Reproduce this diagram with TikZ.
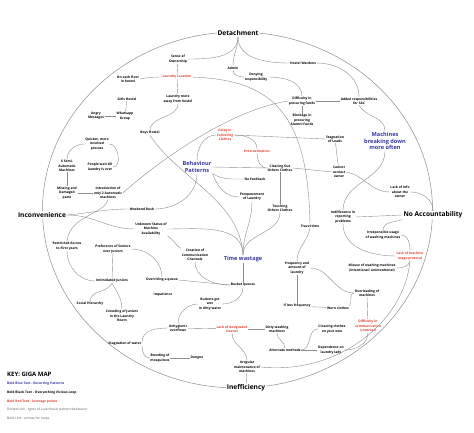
\documentclass[tikz,border=0pt]{standalone}
\usepackage{fontspec}
\setmainfont{Open Sans}
\definecolor{linegray}{RGB}{140,140,140}
\definecolor{patblue}{RGB}{55,55,165}
\definecolor{leverred}{RGB}{225,60,40}
\tikzset{
  lbl/.style={font=\fontsize{3.3}{4.4}\selectfont\bfseries, align=center, inner sep=0.6pt},
  lever/.style={lbl, text=leverred},
  pattern/.style={font=\fontsize{5.6}{6.8}\selectfont\bfseries, text=patblue, align=center, inner sep=1pt},
  loopnode/.style={font=\fontsize{6.6}{8}\selectfont\bfseries, fill=white, inner sep=1pt},
  conn/.style={draw=linegray, line width=0.4pt},
  keyline/.style={font=\fontsize{3.3}{4}\selectfont, anchor=west, inner sep=0pt},
}
\begin{document}
\begin{tikzpicture}[x=1pt, y=-1pt]
    \useasboundingbox (0,0) rectangle (474,433);

    % Big loop
    \draw[conn, line width=0.5pt] (237.5,210) ellipse [x radius=195, y radius=178];

    % Overarching vicious loop
    \node[loopnode] (detach) at (238,33) {Detachment};
    \node[loopnode] (inconv) at (42,215) {Inconvenience};
    \node[loopnode] (noacc) at (433,215) {No Accountability};
    \node[loopnode] (ineff) at (246,388) {Inefficiency};

    % Recurring patterns
    \node[pattern] (behav) at (197,167) {Behaviour\\Patterns};
    \node[pattern] (machbreak) at (385,141) {Machines\\breaking down\\more often};
    \node[pattern] (timew) at (243,259) {Time wastage};

    % Leverage points
    \node[lever] (lauloc) at (177,77) {Laundry Location};
    \node[lever] (delay) at (225,135) {Delay in\\Collecting\\Clothes};
    \node[lever] (procras) at (257,151) {Procrastination};
    \node[lever] (lackproto) at (410,256) {Lack of machine\\usage protocol};
    \node[lever] (lackclean) at (232,329) {Lack of designated\\cleaner};
    \node[lever] (diffcomm) at (368,326) {Difficulty in\\communication\\(contract)};

    % Top
    \node[lbl] (ownership) at (178,59) {Sense of\\Ownership};
    \node[lbl] (admin) at (233,68) {Admin};
    \node[lbl] (denying) at (256,77) {Denying\\responsibility};
    \node[lbl] (wardens) at (303,63) {Hostel Wardens};
    \node[lbl] (eachfloor) at (128,79) {On each floor\\in hostel};
    \node[lbl] (girls) at (127,99) {Girls Hostel};
    \node[lbl] (moreaway) at (178,99) {Laundry more\\away from hostel};
    \node[lbl] (difffunds) at (302,101) {Difficulty in\\procuring funds};
    \node[lbl] (addedresp) at (359,101) {Added responsibilities\\for SAC};
    \node[lbl] (blockage) at (302,120) {Blockage in\\procuring\\Alumni Funds};

    % Left
    \node[lbl] (angry) at (96,116) {Angry\\Messages};
    \node[lbl] (whatsapp) at (125,116) {Whatsapp\\Group};
    \node[lbl] (boys) at (150,133) {Boys Hostel};
    \node[lbl] (quicker) at (97,144) {Quicker, more\\involved\\process};
    \node[lbl] (semiauto) at (67,166) {6 Semi-\\Automatic\\Machines};
    \node[lbl] (peoplewait) at (100,167) {People wait till\\laundry is over};
    \node[lbl] (missing) at (67,193) {Missing and\\Damaged\\parts};
    \node[lbl] (intro) at (108,193) {Introduction of\\only 2 Automatic\\machines};
    \node[lbl] (weekend) at (142,209) {Weekend Rush};
    \node[lbl] (unknown) at (151,229) {Unknown Status of\\Machine\\Availability};
    \node[lbl] (restricted) at (67,246) {Restricted Access\\to First years};
    \node[lbl] (preference) at (113,249) {Preference of Seniors\\over Juniors};
    \node[lbl] (intimid) at (112,281) {Intimidated Juniors};
    \node[lbl] (overriding) at (162,280) {Overriding a queue};
    \node[lbl] (impatience) at (163,295) {Impatience};
    \node[lbl] (socialh) at (90,304) {Social Hierarchy};
    \node[lbl] (crowding) at (122,316) {Crowding of Juniors\\in the Laundry\\Room};

    % Middle
    \node[lbl] (clearing) at (280,168) {Clearing Out\\Others Clothes};
    \node[lbl] (nofeed) at (255,179) {No feedback};
    \node[lbl] (postpone) at (252,197) {Postponement\\of Laundry};
    \node[lbl] (touching) at (280,208) {Touching\\Others Clothes};
    \node[lbl] (creation) at (195,255) {Creation of\\Communication\\Channels};
    \node[lbl] (travel) at (310,226) {Travel time};
    \node[lbl] (frequency) at (297,268) {Frequency and\\amount of\\laundry};
    \node[lbl] (bucketq) at (243,285) {Bucket queues};
    \node[lbl] (bucketwet) at (210,304) {Buckets get\\wet\\in dirty water};
    \node[lbl] (lessfreq) at (297,306) {If less frequency};

    % Right
    \node[lbl] (stagloads) at (335,139) {Stagnation\\of Loads};
    \node[lbl] (contact) at (339,172) {Cannot\\contact\\owner};
    \node[lbl] (lackinfo) at (400,192) {Lack of info\\about the\\owner};
    \node[lbl] (indiff) at (343,217) {Indifference in\\reporting\\problems};
    \node[lbl] (irresp) at (383,235) {Irresponsible usage\\of washing machines};
    \node[lbl] (misuse) at (372,268) {Misuse of washing machines\\(intentional/ unintentional)};
    \node[lbl] (overload) at (367,293) {Overloading of\\machines};
    \node[lbl] (worn) at (338,308) {Worn clothes};

    % Bottom
    \node[lbl] (unhyg) at (178,328) {Unhygienic\\overflows};
    \node[lbl] (dirtywm) at (277,329) {Dirty washing\\machines};
    \node[lbl] (cleanown) at (332,329) {Cleaning clothes\\on your own};
    \node[lbl] (stagwater) at (125,344) {Stagnation of water};
    \node[lbl] (altmeth) at (285,350) {Alternate methods};
    \node[lbl] (dependence) at (331,350) {Dependence on\\laundry lady};
    \node[lbl] (breeding) at (160,358) {Breeding of\\mosquitoes};
    \node[lbl] (dengue) at (197,358) {Dengue};
    \node[lbl] (irregular) at (247,367) {Irregular\\maintenance of\\machines};

    % Connectors
    \draw[conn] (detach.south) to[out=-90,in=0] (ownership.east);
    \draw[conn] (detach.south) to[out=-90,in=90] (admin.north);
    \draw[conn] (detach.south) to[out=-90,in=180] (wardens.west);
    \draw[conn] (ownership) -- (lauloc);
    \draw[conn] (lauloc) -- (moreaway);
    \draw[conn] (eachfloor.east) to[out=10,in=180] (lauloc.west);
    \draw[conn] (admin.south) to[out=-90,in=180] (denying.west);
    \draw[conn] (denying.east) to[out=0,in=90] (difffunds.north);
    \draw[conn] (wardens.east) to[out=0,in=90] (addedresp.north);
    \draw[conn] (difffunds) -- (addedresp);
    \draw[conn] (difffunds) -- (blockage);
    \draw[conn] (girls) -- (whatsapp);
    \draw[conn] (angry) -- (whatsapp);
    \draw[conn] (moreaway.south) to[out=-90,in=90] (boys.north);
    \draw[conn] (lauloc.east) .. controls (270,80) and (308,110) .. (travel.north);
    \draw[conn] (quicker.west) to[out=180,in=90] (semiauto.north);
    \draw[conn] (quicker.east) to[out=0,in=0] (peoplewait.east);
    \draw[conn] (semiauto) -- (missing);
    \draw[conn] (missing) -- (intro);
    \draw[conn] (intro.east) .. controls (160,160) and (230,110) .. (difffunds.west);
    \draw[conn] (intro.south) .. controls (104,215) and (70,215) .. (restricted.north);
    \draw[conn] (delay.west) to[out=180,in=90] (behav.north);
    \draw[conn] (delay.east) to[out=0,in=90] (procras.north);
    \draw[conn] (procras.south) to[out=-90,in=180] (clearing.west);
    \draw[conn] (delay.east) -- (stagloads.west);
    \draw[conn] (behav.east) -- (clearing.west);
    \draw[conn] (behav.south east) to[out=-30,in=180] (nofeed.west);
    \draw[conn] (behav.south east) to[out=-70,in=180] (postpone.west);
    \draw[conn] (behav.south) to[out=-90,in=0] (weekend.east);
    \draw[conn] (clearing) -- (touching);
    \draw[conn] (clearing.east) -- (contact.west);
    \draw[conn] (stagloads) -- (contact);
    \draw[conn] (contact.east) to[out=-10,in=180] (lackinfo.west);
    \draw[conn] (lackinfo.east) to[out=0,in=90] (noacc.north);
    \draw[conn] (addedresp.south) to[out=-60,in=90] (machbreak.north);
    \draw[conn] (machbreak.south) to[out=-90,in=90] (indiff.north);
    \draw[conn] (indiff.east) -- (noacc.west);
    \draw[conn] (noacc.south west) to[out=200,in=90] (irresp.north);
    \draw[conn] (irresp.east) to[out=0,in=90] (lackproto.north);
    \draw[conn] (indiff.south) to[out=-90,in=180] (lackproto.west);
    \draw[conn] (lackproto.south) to[out=-100,in=0] (misuse.east);
    \draw[conn] (lackproto.south) .. controls (405,320) and (340,375) .. (irregular.east);
    \draw[conn] (frequency.east) to[out=0,in=180] (overload.west);
    \draw[conn] (worn.north east) to[out=60,in=180] (overload.west);
    \draw[conn] (lessfreq) -- (worn);
    \draw[conn] (frequency) -- (lessfreq);
    \draw[conn] (travel.south) to[out=-100,in=90] (frequency.north);
    \draw[conn] (overload) -- (diffcomm);
    \draw[conn] (diffcomm.south) to[out=-90,in=0] (dependence.east);
    \draw[conn] (altmeth) -- (dependence);
    \draw[conn] (altmeth.east) to[out=0,in=180] (cleanown.west);
    \draw[conn] (dirtywm.south) to[out=-90,in=90] (altmeth.north);
    \draw[conn] (lackclean) -- (dirtywm);
    \draw[conn] (unhyg) -- (lackclean);
    \draw[conn] (lackclean.south) to[out=-90,in=90] (irregular.north);
    \draw[conn] (irregular) -- (ineff);
    \draw[conn] (bucketwet.west) to[out=180,in=90] (unhyg.north);
    \draw[conn] (bucketq.south) to[out=-90,in=0] (bucketwet.east);
    \draw[conn] (timew) -- (bucketq);
    \draw[conn] (overriding.east) -- (bucketq.west);
    \draw[conn] (creation.south) to[out=-90,in=180] (bucketq.west);
    \draw[conn] (unhyg.west) to[out=180,in=90] (stagwater.north east);
    \draw[conn] (stagwater.south east) to[out=-90,in=180] (breeding.west);
    \draw[conn] (breeding) -- (dengue);
    \draw[conn] (inconv.east) to[out=0,in=180] (unknown.west);
    \draw[conn] (inconv.east) to[out=5,in=180] (weekend.west);
    \draw[conn] (restricted.south) to[out=-90,in=180] (intimid.west);
    \draw[conn] (preference) -- (intimid);
    \draw[conn] (intimid.south) to[out=-120,in=90] (socialh.north);
    \draw[conn] (intimid.south) to[out=-60,in=90] (crowding.north);
    \draw[conn] (preference.east) to[out=0,in=90] (overriding.north);
    \draw[conn] (unknown.east) to[out=0,in=90] (timew.north);
    \draw[conn] (postpone.south) to[out=-90,in=90] (timew.north);
    \draw[conn] (touching.south) to[out=-90,in=90] (timew.north);
    \draw[conn] (boys.south) .. controls (180,180) and (240,200) .. (timew.north);
    \draw[conn] (unknown.south east) to[out=-30,in=150] (creation.north west);

    % Key
    \node[font=\fontsize{6}{7}\selectfont\bfseries, anchor=west, inner sep=0pt] (keytitle) at (7,374) {KEY: GIGA MAP};
    \node[keyline, text=patblue, font=\fontsize{3.3}{4}\selectfont\bfseries] (keyblue) at (7,384) {Bold Blue Text - Recurring Patterns};
    \node[keyline, font=\fontsize{3.3}{4}\selectfont\bfseries] (keyblack) at (7,393) {Bold Black Text - Overarching Vicious Loop};
    \node[keyline, text=leverred, font=\fontsize{3.3}{4}\selectfont\bfseries] (keyred) at (7,402) {Bold Red Text - leverage points};
    \node[keyline, text=black!65] (keydot) at (7,410) {Dotted Line - types of a particular pattern/behaviour};
    \node[keyline, text=black!65] (keybold) at (7,419) {Bold Line - arrows for loops};
\end{tikzpicture}
\end{document}
